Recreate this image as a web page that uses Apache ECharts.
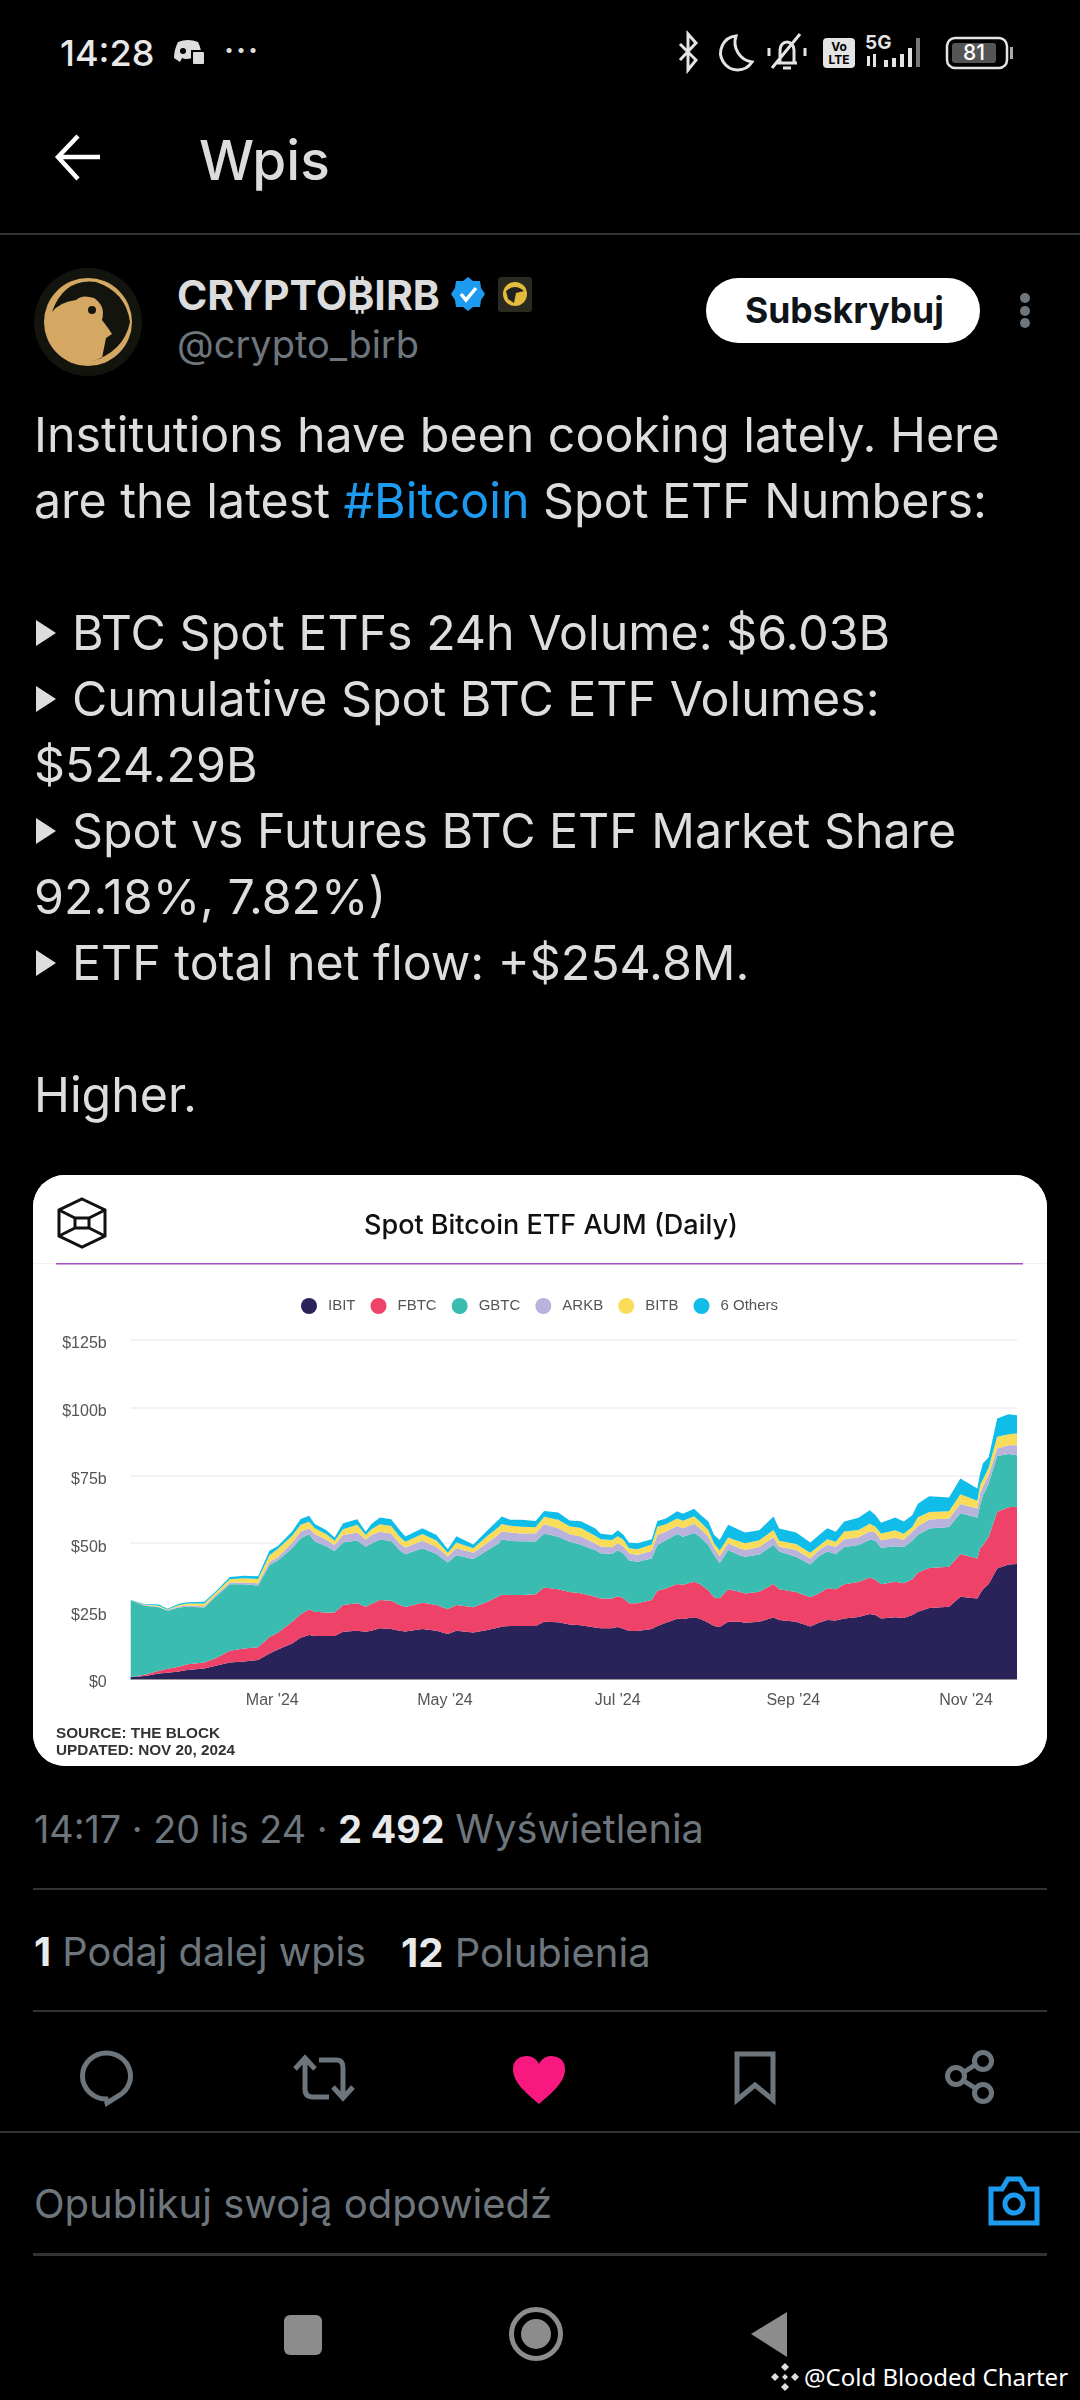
<!DOCTYPE html>
<html><head><meta charset="utf-8">
<script src="https://cdn.jsdelivr.net/npm/echarts@6/dist/echarts.min.js"></script>
<style>
html,body{margin:0;padding:0;background:#000;width:1080px;height:2400px;overflow:hidden;font-family:Inter,"Noto Sans",sans-serif}
.t{position:absolute;white-space:nowrap;line-height:1;transform:translateY(-50%)}
.tw{font-size:48.3px;color:#dcdddf;left:34px}
.g{color:#6e767d}
.w{color:#e7e9ea;font-weight:700}
.hr{position:absolute;height:1.5px;background:#2f3336}
svg{position:absolute;overflow:visible}
#card{position:absolute;left:33px;top:1175px;width:1014px;height:591px;background:#fff;border-radius:32px;overflow:hidden}
#chart{position:absolute;left:0;top:0;width:1014px;height:591px}
</style></head><body>

<div class="t" style="left:60px;top:53px;font-size:36px;font-weight:500;color:#e8e8e8">14:28</div>
<svg style="left:172px;top:36px" width="36" height="34" viewBox="0 0 36 34"><path d="M6 6 Q16 2 26 6 Q30 14 30 24 L22 26 L20 22 Q14 24 10 22 L8 26 L2 22 Q2 14 6 6Z" fill="#ddd"/><circle cx="11" cy="15" r="3" fill="#000"/><rect x="19" y="14" width="13" height="15" fill="#000"/><rect x="21" y="16" width="11" height="12" rx="1" fill="#ddd"/></svg>
<div class="t" style="left:224px;top:50px;font-size:30px;font-weight:700;color:#ddd;letter-spacing:2px">···</div>

<svg style="left:676px;top:30px" width="340" height="46" viewBox="0 0 340 46" fill="none" stroke="#e4e4e4" stroke-width="3">
<path d="M4 14 L20 30 L12 40 L12 4 L20 13 L4 30"/>
<path d="M60 6 A17 17 0 1 0 76 32 A20 20 0 0 1 60 6Z"/>
<path d="M100 33 L121 33 M104 33 L104 20 A7 8 0 0 1 118 20 L118 33 M107 38 L115 38 M124 4 L96 38 M93 18 L93 26 M129 18 L129 26"/>
<rect x="147" y="8" width="32" height="30" rx="4" fill="#e4e4e4" stroke="none"/>
<text x="163" y="21" font-size="12" font-weight="700" fill="#000" stroke="none" text-anchor="middle">Vo</text>
<text x="163" y="34" font-size="12" font-weight="700" fill="#000" stroke="none" text-anchor="middle">LTE</text>
<text x="189" y="19" font-size="19" font-weight="700" fill="#e4e4e4" stroke="none">5G</text>
<g stroke="none" fill="#e4e4e4"><rect x="191" y="26" width="3" height="10"/><rect x="197" y="24" width="3" height="13"/><rect x="208" y="30" width="4" height="7"/><rect x="216" y="28" width="4" height="9"/><rect x="224" y="24" width="4" height="13"/><rect x="232" y="18" width="4" height="19"/></g>
<rect x="240" y="8" width="4" height="29" fill="#777" stroke="none"/>
<rect x="271" y="8" width="60" height="30" rx="8" stroke-width="2.5"/>
<rect x="276" y="13" width="44" height="20" rx="3" fill="#555" stroke="none"/>
<text x="298" y="30" font-size="21" font-weight="500" fill="#fff" stroke="none" text-anchor="middle">81</text>
<rect x="334" y="17" width="3" height="12" fill="#aaa" stroke="none"/>
</svg>

<svg style="left:55px;top:135px" width="46" height="46" viewBox="0 0 46 46" fill="none" stroke="#fff" stroke-width="4.5"><path d="M45 22 L3 22 M23 1 L3 22 L23 44"/></svg>
<div class="t" style="left:199px;top:160px;font-size:55px;font-weight:500;color:#dcdcdc">Wpis</div>
<div class="hr" style="left:0;top:233px;width:1080px"></div>

<svg style="left:34px;top:268px" width="108" height="108" viewBox="0 0 108 108"><circle cx="54" cy="54" r="54" fill="#14140f"/><circle cx="54" cy="54" r="44" fill="#d4a862"/><path d="M18 44 Q26 34 42 32 Q48 26 60 30 Q72 38 68 52 L74 60 L78 66 L72 70 L68 90 L56 94 Q90 84 96 54 Q92 24 62 14 Q30 10 18 44Z" fill="#14140f"/><circle cx="58" cy="42" r="4" fill="#14140f"/></svg>
<div class="t" style="left:177px;top:295px;font-size:41px;font-weight:700;color:#dcdcdc">CRYPTO₿IRB</div>
<svg style="left:451px;top:277px" width="34" height="34" viewBox="0 0 34 34"><path d="M17 0 L22 4 L29 4 L30 11 L34 17 L30 23 L29 30 L22 30 L17 34 L12 30 L5 30 L4 23 L0 17 L4 11 L5 4 L12 4Z" fill="#1d9bf0"/><path d="M10 17 L15 23 L25 11" fill="none" stroke="#fff" stroke-width="3.5"/></svg>
<svg style="left:498px;top:277px" width="34" height="35" viewBox="0 0 34 35"><rect width="34" height="35" rx="3" fill="#2a2a20"/><circle cx="17" cy="17" r="12" fill="#e4bc3c"/><path d="M8 14 Q17 6 26 14 L18 16 L16 26 L10 22Z" fill="#222"/></svg>
<div class="t g" style="left:177px;top:344px;font-size:38px">@crypto_birb</div>
<div style="position:absolute;left:706px;top:278px;width:274px;height:65px;border-radius:33px;background:#fff"></div>
<div class="t" style="left:745px;top:311px;font-size:35.5px;font-weight:700;color:#0f1419">Subskrybuj</div>
<svg style="left:1015px;top:290px" width="20" height="44"><circle cx="10" cy="8" r="5" fill="#6e767d"/><circle cx="10" cy="21" r="5" fill="#6e767d"/><circle cx="10" cy="33" r="5" fill="#6e767d"/></svg>

<div class="t tw" style="top:435px">Institutions have been cooking lately. Here</div>
<div class="t tw" style="top:501px">are the latest <span style="color:#1d9bf0">#Bitcoin</span> Spot ETF Numbers:</div>
<svg style="left:36px;top:620px" width="20" height="26"><path d="M0 0 L20 13 L0 26Z" fill="#dcdddf"/></svg>
<div class="t tw" style="left:72px;top:633px">BTC Spot ETFs 24h Volume: $6.03B</div>
<svg style="left:36px;top:686px" width="20" height="26"><path d="M0 0 L20 13 L0 26Z" fill="#dcdddf"/></svg>
<div class="t tw" style="left:72px;top:699px">Cumulative Spot BTC ETF Volumes:</div>
<div class="t tw" style="top:765px">$524.29B</div>
<svg style="left:36px;top:818px" width="20" height="26"><path d="M0 0 L20 13 L0 26Z" fill="#dcdddf"/></svg>
<div class="t tw" style="left:72px;top:831px">Spot vs Futures BTC ETF Market Share</div>
<div class="t tw" style="top:897px">92.18%, 7.82%)</div>
<svg style="left:36px;top:950px" width="20" height="26"><path d="M0 0 L20 13 L0 26Z" fill="#dcdddf"/></svg>
<div class="t tw" style="left:72px;top:963px">ETF total net flow: +$254.8M.</div>
<div class="t tw" style="top:1095px">Higher.</div>

<div id="card"><div id="chart"></div>
<svg style="left:24px;top:23px" width="50" height="50" viewBox="0 0 50 50" fill="none" stroke="#111" stroke-width="3"><path d="M25 1 L48 12 L48 38 L25 49 L2 38 L2 12Z"/><path d="M2 12 L18 20 L32 20 L48 12 M2 38 L18 30 L32 30 L48 38 M18 20 L18 30 L32 30 L32 20Z"/></svg>
</div>

<div class="t g" style="left:34px;top:1830px;font-size:37.7px">14:17 · 20 lis 24 · <span class="w">2 492</span> <span style="font-size:39.7px">Wyświetlenia</span></div>
<div class="hr" style="left:33px;top:1888px;width:1014px"></div>
<div class="t g" style="left:34px;top:1953px;font-size:39.7px"><span class="w">1</span> Podaj dalej wpis</div>
<div class="t g" style="left:401px;top:1953px;font-size:40px"><span class="w">12</span> Polubienia</div>
<div class="hr" style="left:33px;top:2010px;width:1014px"></div>

<svg style="left:80px;top:2050px" width="54" height="56" viewBox="0 0 54 56" fill="none" stroke="#6e767d" stroke-width="5"><path d="M27 3 A24 23 0 0 1 40 45 L27 53 L26 49 A24 23 0 0 1 27 3Z"/></svg>
<svg style="left:293px;top:2055px" width="62" height="46" viewBox="0 0 62 46" fill="none" stroke="#6e767d" stroke-width="5"><path d="M2 14 L12 3 L22 14 M12 3 L12 34 Q12 42 20 42 L36 42 M26 5 L44 5 Q50 5 50 13 L50 43 M40 32 L50 43 L60 32"/></svg>
<svg style="left:513px;top:2056px" width="52" height="48" viewBox="0 0 52 48"><path d="M26 48 C12 36 0 26 0 13 C0 3 8 0 14 0 C20 0 24 4 26 8 C28 4 32 0 38 0 C44 0 52 3 52 13 C52 26 40 36 26 48Z" fill="#f91880"/></svg>
<svg style="left:734px;top:2051px" width="42" height="54" viewBox="0 0 42 54" fill="none" stroke="#6e767d" stroke-width="5"><path d="M3 3 L39 3 L39 49 L21 34 L3 49Z"/></svg>
<svg style="left:945px;top:2050px" width="50" height="54" viewBox="0 0 50 54" fill="none" stroke="#6e767d" stroke-width="5"><circle cx="38" cy="11" r="8.5"/><circle cx="11" cy="26" r="8.5"/><circle cx="38" cy="43" r="8.5"/><path d="M19 22 L30 15 M19 31 L30 38"/></svg>
<div class="hr" style="left:0;top:2131px;width:1080px"></div>
<div class="t g" style="left:34px;top:2204px;font-size:40px">Opublikuj swoją odpowiedź</div>
<svg style="left:988px;top:2176px" width="52" height="50" viewBox="0 0 52 50" fill="none" stroke="#1d9bf0" stroke-width="5"><path d="M3 13 L14 13 L20 3 L32 3 L38 13 L49 13 L49 47 L3 47Z"/><circle cx="26" cy="28" r="9"/></svg>
<div class="hr" style="left:33px;top:2253px;width:1014px;height:3px;background:#333"></div>

<svg style="left:284px;top:2315px" width="38" height="40"><rect width="38" height="40" rx="6" fill="#8c8c8c"/></svg>
<svg style="left:508px;top:2306px" width="56" height="56"><circle cx="28" cy="28" r="24.5" fill="none" stroke="#8c8c8c" stroke-width="5"/><circle cx="28" cy="28" r="15" fill="#8c8c8c"/></svg>
<svg style="left:751px;top:2312px" width="36" height="45"><path d="M36 0 L36 45 L0 22Z" fill="#8c8c8c"/></svg>
<svg style="left:771px;top:2363px" width="28" height="28" viewBox="0 0 28 28" fill="#ddd"><path d="M14 0 L18 4 L14 8 L10 4Z M4 10 L8 14 L4 18 L0 14Z M24 10 L28 14 L24 18 L20 14Z M14 20 L18 24 L14 28 L10 24Z M14 11 L17 14 L14 17 L11 14Z"/></svg>
<div class="t" style="left:804px;top:2377px;font-size:24px;color:#fff;font-family:'Noto Sans'">@Cold Blooded Charter</div>

<script>
const dates=['2024-01-11','2024-01-16','2024-01-21','2024-01-24','2024-01-28','2024-01-31','2024-02-06','2024-02-10','2024-02-15','2024-02-20','2024-02-25','2024-02-29','2024-03-03','2024-03-08','2024-03-11','2024-03-14','2024-03-16','2024-03-20','2024-03-23','2024-03-26','2024-03-31','2024-04-03','2024-04-05','2024-04-08','2024-04-12','2024-04-15','2024-04-17','2024-04-23','2024-04-28','2024-05-02','2024-05-05','2024-05-11','2024-05-16','2024-05-20','2024-05-21','2024-05-24','2024-05-28','2024-06-02','2024-06-05','2024-06-10','2024-06-14','2024-06-18','2024-06-23','2024-06-25','2024-06-29','2024-07-01','2024-07-03','2024-07-05','2024-07-08','2024-07-13','2024-07-15','2024-07-18','2024-07-22','2024-07-24','2024-07-28','2024-07-30','2024-08-02','2024-08-04','2024-08-06','2024-08-09','2024-08-13','2024-08-15','2024-08-20','2024-08-25','2024-08-27','2024-09-02','2024-09-07','2024-09-10','2024-09-13','2024-09-16','2024-09-19','2024-09-24','2024-09-28','2024-09-30','2024-10-02','2024-10-07','2024-10-10','2024-10-13','2024-10-15','2024-10-19','2024-10-26','2024-10-30','2024-11-05','2024-11-06','2024-11-07','2024-11-09','2024-11-12','2024-11-16','2024-11-19'];
const ibit=[0.7,1.1,2.0,2.3,2.8,3.3,3.9,4.9,6.1,6.4,7.0,9.4,10.9,13.1,15.2,16.2,15.8,15.8,15.8,17.4,17.8,17.4,17.8,18.7,18.4,17.8,17.5,18.4,17.8,16.6,17.8,17.1,18.0,19.0,19.3,19.5,19.5,19.5,21.1,20.9,20.1,19.8,19.0,18.7,18.7,19.1,18.5,17.7,17.7,18.4,19.5,20.7,22.2,22.1,22.7,22.2,20.7,19.5,19.1,21.1,21.1,20.7,21.1,22.6,21.7,21.1,19.3,20.7,21.7,21.5,22.3,22.8,23.9,23.6,22.3,22.7,22.5,23.6,24.8,26.1,26.6,30.3,29.6,31.5,33.0,35.0,40.7,42.2,42.3];
const fbtc=[0,0.5,1.0,1.5,1.7,2.1,2.2,2.7,4.3,4.8,4.7,6.1,6.1,8.0,8.6,9.4,9.0,8.7,8.7,9.8,10.1,9.2,9.8,10.4,10.4,9.4,9.0,9.7,9.4,9.1,9.4,9.3,10.4,11.5,11.7,11.4,11.4,11.7,12.6,12.1,11.9,11.8,11.3,10.9,10.9,11.4,11.2,10.2,10.2,10.7,13.0,12.6,12.8,12.6,13.1,12.8,12.0,10.6,10.6,11.9,11.0,10.8,11.0,12.4,11.3,10.9,10.8,10.8,11.7,11.5,12.6,12.9,13.5,12.9,12.6,13.1,12.8,13.1,14.4,14.8,14.7,15.7,14.8,16.6,16.3,17.4,20.9,21.0,21.1];
const gbtc=[28.3,25.4,23.4,21.3,21.8,21.2,20.2,22.7,24.5,23.7,22.7,26.4,26.7,27.0,28.0,27.7,25.8,24.4,22.6,23.1,23.1,22.1,22.3,22.3,22.0,20.2,19.4,20.0,18.8,17.2,18.4,17.8,19.0,19.4,20.5,19.9,19.8,19.4,19.9,19.4,18.5,17.8,17.2,16.7,16.4,16.9,16.6,15.7,15.3,15.3,16.8,17.8,18.4,17.7,18.0,17.4,16.6,15.6,12.9,14.5,13.5,13.5,13.7,14.4,13.9,13.0,12.1,13.7,13.5,13.0,13.7,13.6,13.9,14.5,13.4,13.1,13.3,14.2,13.9,14.5,14.7,15.0,15.1,16.0,18.4,19.6,20.5,19.6,19.0];
const arkb=[0,0.2,0.2,0.2,0.4,0.5,0.5,0.6,0.6,0.6,0.9,1.2,1.2,2.1,2.5,2.1,2.8,2.5,2.2,2.7,2.9,2.7,3.1,2.8,2.8,2.5,2.5,2.8,2.7,2.2,2.5,2.3,2.8,3.4,2.8,3.1,2.9,3.1,3.4,3.1,2.8,3.1,2.5,2.5,2.5,2.7,2.5,2.7,2.5,2.8,3.7,3.1,2.9,3.1,3.4,3.1,3.1,2.5,2.5,2.5,2.5,2.5,2.8,2.8,1.8,2.5,2.2,2.2,2.5,2.7,2.9,2.9,3.1,2.9,2.8,3.1,2.7,3.3,3.1,3.3,3.1,3.4,3.3,4.3,3.1,3.1,2.8,3.3,3.7];
const bitb=[0,0.2,0.4,0.2,0.5,0.7,1.0,0.9,1.2,1.6,1.5,2.5,3.1,2.5,2.5,2.5,2.1,2.0,1.6,2.1,2.9,1.6,2.1,2.8,2.7,2.5,2.1,2.5,2.3,1.4,2.2,1.6,2.5,2.7,2.8,2.5,2.5,2.2,2.7,3.1,2.9,3.1,2.7,2.7,2.7,2.5,2.5,1.8,2.1,2.3,3.1,2.8,2.8,2.8,2.7,2.5,2.5,1.8,2.2,2.1,2.5,2.5,2.5,2.7,2.2,2.2,2.1,1.6,2.1,1.8,2.8,2.7,2.8,2.2,2.5,2.8,2.2,1.8,3.4,2.8,2.7,3.6,2.8,3.1,2.7,2.8,4.3,4.0,4.3];
const others=[0.1,0.2,0.4,0.4,0.5,0.5,0.6,0.4,0.9,0.9,1.0,1.6,1.0,1.6,2.1,2.2,1.6,1.5,1.2,2.2,2.0,1.2,2.0,2.5,2.5,2.5,2.0,2.1,2.0,1.3,2.3,1.4,2.1,2.7,2.7,2.2,2.5,2.3,2.2,2.7,2.2,2.5,2.8,2.0,1.8,2.2,1.8,2.1,2.2,2.0,2.1,2.1,2.7,2.5,2.8,2.7,3.1,3.1,3.9,4.7,4.3,3.9,3.7,4.9,4.5,4.2,3.8,3.9,4.0,3.7,3.7,4.5,4.9,4.3,3.9,4.7,4.5,4.3,4.9,5.8,5.0,5.8,4.5,4.3,5.9,3.7,6.7,7.4,6.7];
const seriesNames=['IBIT','FBTC','GBTC','ARKB','BITB','6 Others'];
const yTickLabels=['$0','$25b','$50b','$75b','$100b','$125b'];
const xTickDates=['2024-03-01','2024-05-01','2024-07-01','2024-09-01','2024-11-01'];
const xTickLabels=["Mar '24","May '24","Jul '24","Sep '24","Nov '24"];

const colors=['#2a2359','#ee4268','#3bbcb0','#b8b2dd','#fadc5b','#10bde9'];
const values=[ibit,fbtc,gbtc,arkb,bitb,others];
const ts=d=>+echarts.time.parse(d);
const tickTimes=xTickDates.map(ts);
const ui='"Liberation Sans",Arial,sans-serif';
const chart=echarts.init(document.getElementById('chart'),null,{renderer:'canvas'});
chart.setOption({
  animation:false,
  backgroundColor:'#fff',
  color:colors,
  title:{text:'Spot Bitcoin ETF AUM (Daily)',left:331,top:37,padding:0,
    textStyle:{fontFamily:'Inter',fontSize:27,fontWeight:500,color:'#111'}},
  legend:{left:263,top:118,itemWidth:16,itemHeight:16,itemGap:15,icon:'circle',data:seriesNames,
    textStyle:{fontFamily:ui,fontSize:15,color:'#555',padding:[0,0,0,6]}},
  grid:{left:97.7,right:30,top:164.5,bottom:87},
  xAxis:{type:'time',min:ts(dates[0]),max:ts(dates[dates.length-1]),splitNumber:10,
    axisLine:{show:true,lineStyle:{color:'#999',width:1}},axisTick:{show:false},splitLine:{show:false},
    axisLabel:{margin:14,hideOverlap:false,showMinLabel:false,showMaxLabel:false,fontFamily:ui,fontSize:16,color:'#555',
      formatter:v=>{const i=tickTimes.indexOf(+v);return i<0?'':xTickLabels[i];}}},
  yAxis:{type:'value',min:0,max:125,interval:25,
    axisLine:{show:false},axisTick:{show:false},
    splitLine:{lineStyle:{color:'#eeeeee',width:1.5}},
    axisLabel:{margin:24,verticalAlign:'top',lineHeight:8,fontFamily:ui,fontSize:16,color:'#555',formatter:v=>yTickLabels[v/25]}},
  graphic:[
    {type:'rect',left:0,top:88,shape:{width:1014,height:1},style:{fill:'#f0f0f0'}},
    {type:'rect',left:23,top:88,shape:{width:967,height:1.5},style:{fill:'#a94fc4'}},
    {type:'text',left:23,top:551,style:{text:'SOURCE: THE BLOCK',fontFamily:ui,fontWeight:700,fontSize:15.3,fill:'#333'}},
    {type:'text',left:23,top:568,style:{text:'UPDATED: NOV 20, 2024',fontFamily:ui,fontWeight:700,fontSize:15.3,fill:'#333'}}
  ],
  series:seriesNames.map((n,i)=>({
    name:n,type:'line',stack:'aum',showSymbol:false,symbol:'none',
    lineStyle:{width:0},areaStyle:{color:colors[i],opacity:1},itemStyle:{color:colors[i]},
    data:dates.map((d,j)=>[d,values[i][j]])
  }))
});
</script>
</body></html>
